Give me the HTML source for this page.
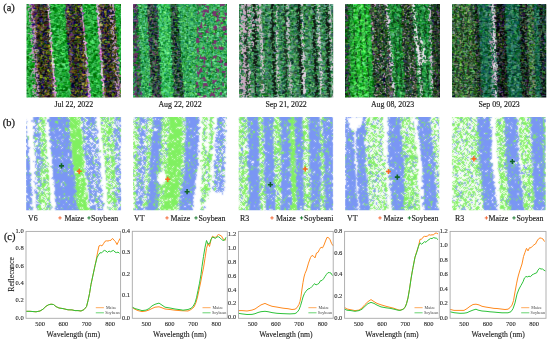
<!DOCTYPE html>
<html><head><meta charset="utf-8"><title>figure</title><style>
html,body{margin:0;padding:0;background:#fff;width:550px;height:342px;overflow:hidden}
svg{display:block}
text{font-family:"Liberation Serif","Times New Roman",serif}
</style></head><body>
<svg width="550" height="342" viewBox="0 0 550 342">
<defs>
<linearGradient id="gD1" x1="0" y1="0" x2="1" y2="0"><stop offset="0" stop-color="#b088ac"/><stop offset="0.12" stop-color="#6e4c62"/><stop offset="0.35" stop-color="#34341f"/><stop offset="0.7" stop-color="#3a3a22"/><stop offset="0.9" stop-color="#5a5436"/><stop offset="1" stop-color="#a89aa0"/></linearGradient>
<linearGradient id="gD1b" x1="0" y1="0" x2="1" y2="0"><stop offset="0" stop-color="#7a6070"/><stop offset="0.15" stop-color="#4a3a40"/><stop offset="0.4" stop-color="#2e3020"/><stop offset="0.75" stop-color="#3a3a22"/><stop offset="0.92" stop-color="#6a5a5a"/><stop offset="1" stop-color="#b090b0"/></linearGradient>
<linearGradient id="gD4" x1="0" y1="0" x2="1" y2="0"><stop offset="0" stop-color="#3a4a3a"/><stop offset="0.3" stop-color="#2c4a30"/><stop offset="0.7" stop-color="#305234"/><stop offset="1" stop-color="#4e4e4e"/></linearGradient>
<linearGradient id="gB4" x1="0" y1="0" x2="1" y2="0"><stop offset="0" stop-color="#1f7a34"/><stop offset="0.25" stop-color="#2db83a"/><stop offset="0.6" stop-color="#34c840"/><stop offset="0.85" stop-color="#28a838"/><stop offset="1" stop-color="#1f7a34"/></linearGradient>
<filter id="dA0" x="0" y="0" width="1" height="1" color-interpolation-filters="sRGB"><feTurbulence type="fractalNoise" baseFrequency="0.25 0.4" numOctaves="2" seed="21" result="t"/><feDisplacementMap in="SourceGraphic" in2="t" scale="5" xChannelSelector="R" yChannelSelector="G"/><feConvolveMatrix order="3" kernelMatrix="0 1 0 1 6 1 0 1 0" edgeMode="duplicate" preserveAlpha="true"/></filter>
<filter id="dA1" x="0" y="0" width="1" height="1" color-interpolation-filters="sRGB"><feTurbulence type="fractalNoise" baseFrequency="0.25 0.4" numOctaves="2" seed="22" result="t"/><feDisplacementMap in="SourceGraphic" in2="t" scale="5" xChannelSelector="R" yChannelSelector="G"/><feConvolveMatrix order="3" kernelMatrix="0 1 0 1 6 1 0 1 0" edgeMode="duplicate" preserveAlpha="true"/></filter>
<filter id="dA2" x="0" y="0" width="1" height="1" color-interpolation-filters="sRGB"><feTurbulence type="fractalNoise" baseFrequency="0.25 0.4" numOctaves="2" seed="23" result="t"/><feDisplacementMap in="SourceGraphic" in2="t" scale="5" xChannelSelector="R" yChannelSelector="G"/><feConvolveMatrix order="3" kernelMatrix="0 1 0 1 6 1 0 1 0" edgeMode="duplicate" preserveAlpha="true"/></filter>
<filter id="dA3" x="0" y="0" width="1" height="1" color-interpolation-filters="sRGB"><feTurbulence type="fractalNoise" baseFrequency="0.25 0.4" numOctaves="2" seed="24" result="t"/><feDisplacementMap in="SourceGraphic" in2="t" scale="5" xChannelSelector="R" yChannelSelector="G"/><feConvolveMatrix order="3" kernelMatrix="0 1 0 1 6 1 0 1 0" edgeMode="duplicate" preserveAlpha="true"/></filter>
<filter id="dA4" x="0" y="0" width="1" height="1" color-interpolation-filters="sRGB"><feTurbulence type="fractalNoise" baseFrequency="0.25 0.4" numOctaves="2" seed="25" result="t"/><feDisplacementMap in="SourceGraphic" in2="t" scale="5" xChannelSelector="R" yChannelSelector="G"/><feConvolveMatrix order="3" kernelMatrix="0 1 0 1 6 1 0 1 0" edgeMode="duplicate" preserveAlpha="true"/></filter>
<filter id="nL1" x="0" y="0" width="1" height="1" color-interpolation-filters="sRGB"><feTurbulence type="fractalNoise" baseFrequency="0.35 0.6" numOctaves="1" seed="3" result="t"/><feColorMatrix in="t" type="matrix" values="0.150 0.900 0.100 0 -0.075 -0.150 0.900 0.100 0 0.075 0.150 0.900 -0.100 0 0.025 0 0 0 0 1" result="c"/><feComposite in="SourceGraphic" in2="c" operator="arithmetic" k1="0" k2="1" k3="1.500" k4="-0.750" result="r"/><feComposite in="r" in2="SourceGraphic" operator="in"/></filter>
<filter id="nL2" x="0" y="0" width="1" height="1" color-interpolation-filters="sRGB"><feTurbulence type="fractalNoise" baseFrequency="0.45 0.8" numOctaves="1" seed="5" result="t"/><feColorMatrix in="t" type="matrix" values="0.100 0.800 0.250 0 -0.075 -0.100 0.800 0.250 0 0.025 0.100 0.800 -0.250 0 0.175 0 0 0 0 1" result="c"/><feComposite in="SourceGraphic" in2="c" operator="arithmetic" k1="0" k2="1" k3="1.500" k4="-0.750" result="r"/><feComposite in="r" in2="SourceGraphic" operator="in"/></filter>
<filter id="nL3" x="0" y="0" width="1" height="1" color-interpolation-filters="sRGB"><feTurbulence type="fractalNoise" baseFrequency="0.35 0.6" numOctaves="1" seed="7" result="t"/><feColorMatrix in="t" type="matrix" values="0.300 0.800 0.200 0 -0.150 -0.300 0.800 0.200 0 0.150 0.300 0.800 -0.200 0 0.050 0 0 0 0 1" result="c"/><feComposite in="SourceGraphic" in2="c" operator="arithmetic" k1="0" k2="1" k3="1.500" k4="-0.750" result="r"/><feComposite in="r" in2="SourceGraphic" operator="in"/></filter>
<filter id="nL4" x="0" y="0" width="1" height="1" color-interpolation-filters="sRGB"><feTurbulence type="fractalNoise" baseFrequency="0.35 0.6" numOctaves="1" seed="11" result="t"/><feColorMatrix in="t" type="matrix" values="0.200 0.800 0.150 0 -0.075 -0.200 0.800 0.150 0 0.125 0.200 0.800 -0.150 0 0.075 0 0 0 0 1" result="c"/><feComposite in="SourceGraphic" in2="c" operator="arithmetic" k1="0" k2="1" k3="1.500" k4="-0.750" result="r"/><feComposite in="r" in2="SourceGraphic" operator="in"/></filter>
<filter id="nL5" x="0" y="0" width="1" height="1" color-interpolation-filters="sRGB"><feTurbulence type="fractalNoise" baseFrequency="0.35 0.6" numOctaves="1" seed="13" result="t"/><feColorMatrix in="t" type="matrix" values="0.200 0.700 0.200 0 -0.050 -0.200 0.700 0.200 0 0.150 0.200 0.700 -0.200 0 0.150 0 0 0 0 1" result="c"/><feComposite in="SourceGraphic" in2="c" operator="arithmetic" k1="0" k2="1" k3="1.500" k4="-0.750" result="r"/><feComposite in="r" in2="SourceGraphic" operator="in"/></filter>
<filter id="nD1" x="0" y="0" width="1" height="1" color-interpolation-filters="sRGB"><feTurbulence type="fractalNoise" baseFrequency="0.4 0.7" numOctaves="1" seed="17" result="t"/><feColorMatrix in="t" type="matrix" values="0.350 0.700 0.700 0 -0.375 -0.350 0.700 0.700 0 -0.025 0.350 0.700 -0.700 0 0.325 0 0 0 0 1" result="c"/><feComposite in="SourceGraphic" in2="c" operator="arithmetic" k1="0" k2="1" k3="1.500" k4="-0.750" result="r"/><feComposite in="r" in2="SourceGraphic" operator="in"/></filter>
<filter id="nD2" x="0" y="0" width="1" height="1" color-interpolation-filters="sRGB"><feTurbulence type="fractalNoise" baseFrequency="0.35 0.6" numOctaves="1" seed="19" result="t"/><feColorMatrix in="t" type="matrix" values="0.800 0.600 0.300 0 -0.350 -0.800 0.600 0.300 0 0.450 0.800 0.600 -0.300 0 -0.050 0 0 0 0 1" result="c"/><feComposite in="SourceGraphic" in2="c" operator="arithmetic" k1="0" k2="1" k3="1.500" k4="-0.750" result="r"/><feComposite in="r" in2="SourceGraphic" operator="in"/></filter>
<filter id="nD3" x="0" y="0" width="1" height="1" color-interpolation-filters="sRGB"><feTurbulence type="fractalNoise" baseFrequency="0.4 0.7" numOctaves="1" seed="23" result="t"/><feColorMatrix in="t" type="matrix" values="0.350 0.800 0.300 0 -0.225 -0.350 0.800 0.300 0 0.125 0.350 0.800 -0.300 0 0.075 0 0 0 0 1" result="c"/><feComposite in="SourceGraphic" in2="c" operator="arithmetic" k1="0" k2="1" k3="1.500" k4="-0.750" result="r"/><feComposite in="r" in2="SourceGraphic" operator="in"/></filter>
<filter id="spP0" x="0" y="0" width="1" height="1" color-interpolation-filters="sRGB"><feTurbulence type="fractalNoise" baseFrequency="0.55" numOctaves="1" seed="40" result="t"/><feColorMatrix in="t" type="matrix" values="0 0 0 0 0 0 0 0 0 0 0 0 0 0 0 25 0 0 0 -13.033" result="m"/><feComposite in="SourceGraphic" in2="m" operator="in"/></filter>
<filter id="spP1" x="0" y="0" width="1" height="1" color-interpolation-filters="sRGB"><feTurbulence type="fractalNoise" baseFrequency="0.55" numOctaves="1" seed="41" result="t"/><feColorMatrix in="t" type="matrix" values="0 0 0 0 0 0 0 0 0 0 0 0 0 0 0 25 0 0 0 -13.033" result="m"/><feComposite in="SourceGraphic" in2="m" operator="in"/></filter>
<filter id="spP2" x="0" y="0" width="1" height="1" color-interpolation-filters="sRGB"><feTurbulence type="fractalNoise" baseFrequency="0.55" numOctaves="1" seed="42" result="t"/><feColorMatrix in="t" type="matrix" values="0 0 0 0 0 0 0 0 0 0 0 0 0 0 0 25 0 0 0 -13.367" result="m"/><feComposite in="SourceGraphic" in2="m" operator="in"/></filter>
<filter id="spP3" x="0" y="0" width="1" height="1" color-interpolation-filters="sRGB"><feTurbulence type="fractalNoise" baseFrequency="0.55" numOctaves="1" seed="43" result="t"/><feColorMatrix in="t" type="matrix" values="0 0 0 0 0 0 0 0 0 0 0 0 0 0 0 25 0 0 0 -13.367" result="m"/><feComposite in="SourceGraphic" in2="m" operator="in"/></filter>
<filter id="spP4" x="0" y="0" width="1" height="1" color-interpolation-filters="sRGB"><feTurbulence type="fractalNoise" baseFrequency="0.55" numOctaves="1" seed="44" result="t"/><feColorMatrix in="t" type="matrix" values="0 0 0 0 0 0 0 0 0 0 0 0 0 0 0 25 0 0 0 -13.367" result="m"/><feComposite in="SourceGraphic" in2="m" operator="in"/></filter>
<filter id="spS0" x="0" y="0" width="1" height="1" color-interpolation-filters="sRGB"><feTurbulence type="fractalNoise" baseFrequency="0.6" numOctaves="1" seed="120" result="t"/><feColorMatrix in="t" type="matrix" values="0 0 0 0 0 0 0 0 0 0 0 0 0 0 0 25 0 0 0 -16.000" result="m"/><feComposite in="SourceGraphic" in2="m" operator="in"/></filter>
<filter id="spQ0" x="0" y="0" width="1" height="1" color-interpolation-filters="sRGB"><feTurbulence type="fractalNoise" baseFrequency="0.3" numOctaves="1" seed="160" result="t"/><feColorMatrix in="t" type="matrix" values="0 0 0 0 0 0 0 0 0 0 0 0 0 0 0 25 0 0 0 -14.250" result="m"/><feComposite in="SourceGraphic" in2="m" operator="in"/></filter>
<filter id="spS1" x="0" y="0" width="1" height="1" color-interpolation-filters="sRGB"><feTurbulence type="fractalNoise" baseFrequency="0.6" numOctaves="1" seed="121" result="t"/><feColorMatrix in="t" type="matrix" values="0 0 0 0 0 0 0 0 0 0 0 0 0 0 0 25 0 0 0 -16.000" result="m"/><feComposite in="SourceGraphic" in2="m" operator="in"/></filter>
<filter id="spQ1" x="0" y="0" width="1" height="1" color-interpolation-filters="sRGB"><feTurbulence type="fractalNoise" baseFrequency="0.3" numOctaves="1" seed="161" result="t"/><feColorMatrix in="t" type="matrix" values="0 0 0 0 0 0 0 0 0 0 0 0 0 0 0 25 0 0 0 -14.250" result="m"/><feComposite in="SourceGraphic" in2="m" operator="in"/></filter>
<filter id="spS2" x="0" y="0" width="1" height="1" color-interpolation-filters="sRGB"><feTurbulence type="fractalNoise" baseFrequency="0.6" numOctaves="1" seed="122" result="t"/><feColorMatrix in="t" type="matrix" values="0 0 0 0 0 0 0 0 0 0 0 0 0 0 0 25 0 0 0 -16.000" result="m"/><feComposite in="SourceGraphic" in2="m" operator="in"/></filter>
<filter id="spQ2" x="0" y="0" width="1" height="1" color-interpolation-filters="sRGB"><feTurbulence type="fractalNoise" baseFrequency="0.3" numOctaves="1" seed="162" result="t"/><feColorMatrix in="t" type="matrix" values="0 0 0 0 0 0 0 0 0 0 0 0 0 0 0 25 0 0 0 -14.250" result="m"/><feComposite in="SourceGraphic" in2="m" operator="in"/></filter>
<filter id="spS3" x="0" y="0" width="1" height="1" color-interpolation-filters="sRGB"><feTurbulence type="fractalNoise" baseFrequency="0.6" numOctaves="1" seed="123" result="t"/><feColorMatrix in="t" type="matrix" values="0 0 0 0 0 0 0 0 0 0 0 0 0 0 0 25 0 0 0 -16.000" result="m"/><feComposite in="SourceGraphic" in2="m" operator="in"/></filter>
<filter id="spQ3" x="0" y="0" width="1" height="1" color-interpolation-filters="sRGB"><feTurbulence type="fractalNoise" baseFrequency="0.3" numOctaves="1" seed="163" result="t"/><feColorMatrix in="t" type="matrix" values="0 0 0 0 0 0 0 0 0 0 0 0 0 0 0 25 0 0 0 -14.250" result="m"/><feComposite in="SourceGraphic" in2="m" operator="in"/></filter>
<filter id="spS4" x="0" y="0" width="1" height="1" color-interpolation-filters="sRGB"><feTurbulence type="fractalNoise" baseFrequency="0.6" numOctaves="1" seed="124" result="t"/><feColorMatrix in="t" type="matrix" values="0 0 0 0 0 0 0 0 0 0 0 0 0 0 0 25 0 0 0 -16.000" result="m"/><feComposite in="SourceGraphic" in2="m" operator="in"/></filter>
<filter id="spQ4" x="0" y="0" width="1" height="1" color-interpolation-filters="sRGB"><feTurbulence type="fractalNoise" baseFrequency="0.3" numOctaves="1" seed="164" result="t"/><feColorMatrix in="t" type="matrix" values="0 0 0 0 0 0 0 0 0 0 0 0 0 0 0 25 0 0 0 -14.250" result="m"/><feComposite in="SourceGraphic" in2="m" operator="in"/></filter>
<filter id="spL0" x="0" y="0" width="1" height="1" color-interpolation-filters="sRGB"><feTurbulence type="fractalNoise" baseFrequency="0.55" numOctaves="1" seed="100" result="t"/><feColorMatrix in="t" type="matrix" values="0 0 0 0 0 0 0 0 0 0 0 0 0 0 0 25 0 0 0 -11.667" result="m"/><feComposite in="SourceGraphic" in2="m" operator="in"/></filter>
<filter id="spK0" x="0" y="0" width="1" height="1" color-interpolation-filters="sRGB"><feTurbulence type="fractalNoise" baseFrequency="0.55" numOctaves="1" seed="110" result="t"/><feColorMatrix in="t" type="matrix" values="0 0 0 0 0 0 0 0 0 0 0 0 0 0 0 25 0 0 0 -10.643" result="m"/><feComposite in="SourceGraphic" in2="m" operator="in"/></filter>
<filter id="spL1" x="0" y="0" width="1" height="1" color-interpolation-filters="sRGB"><feTurbulence type="fractalNoise" baseFrequency="0.55" numOctaves="1" seed="101" result="t"/><feColorMatrix in="t" type="matrix" values="0 0 0 0 0 0 0 0 0 0 0 0 0 0 0 25 0 0 0 -11.667" result="m"/><feComposite in="SourceGraphic" in2="m" operator="in"/></filter>
<filter id="spK1" x="0" y="0" width="1" height="1" color-interpolation-filters="sRGB"><feTurbulence type="fractalNoise" baseFrequency="0.55" numOctaves="1" seed="111" result="t"/><feColorMatrix in="t" type="matrix" values="0 0 0 0 0 0 0 0 0 0 0 0 0 0 0 25 0 0 0 -10.643" result="m"/><feComposite in="SourceGraphic" in2="m" operator="in"/></filter>
<filter id="spL2" x="0" y="0" width="1" height="1" color-interpolation-filters="sRGB"><feTurbulence type="fractalNoise" baseFrequency="0.55" numOctaves="1" seed="102" result="t"/><feColorMatrix in="t" type="matrix" values="0 0 0 0 0 0 0 0 0 0 0 0 0 0 0 25 0 0 0 -11.667" result="m"/><feComposite in="SourceGraphic" in2="m" operator="in"/></filter>
<filter id="spK2" x="0" y="0" width="1" height="1" color-interpolation-filters="sRGB"><feTurbulence type="fractalNoise" baseFrequency="0.55" numOctaves="1" seed="112" result="t"/><feColorMatrix in="t" type="matrix" values="0 0 0 0 0 0 0 0 0 0 0 0 0 0 0 25 0 0 0 -10.643" result="m"/><feComposite in="SourceGraphic" in2="m" operator="in"/></filter>
<filter id="spL3" x="0" y="0" width="1" height="1" color-interpolation-filters="sRGB"><feTurbulence type="fractalNoise" baseFrequency="0.55" numOctaves="1" seed="103" result="t"/><feColorMatrix in="t" type="matrix" values="0 0 0 0 0 0 0 0 0 0 0 0 0 0 0 25 0 0 0 -11.667" result="m"/><feComposite in="SourceGraphic" in2="m" operator="in"/></filter>
<filter id="spK3" x="0" y="0" width="1" height="1" color-interpolation-filters="sRGB"><feTurbulence type="fractalNoise" baseFrequency="0.55" numOctaves="1" seed="113" result="t"/><feColorMatrix in="t" type="matrix" values="0 0 0 0 0 0 0 0 0 0 0 0 0 0 0 25 0 0 0 -10.643" result="m"/><feComposite in="SourceGraphic" in2="m" operator="in"/></filter>
<filter id="spL4" x="0" y="0" width="1" height="1" color-interpolation-filters="sRGB"><feTurbulence type="fractalNoise" baseFrequency="0.55" numOctaves="1" seed="104" result="t"/><feColorMatrix in="t" type="matrix" values="0 0 0 0 0 0 0 0 0 0 0 0 0 0 0 25 0 0 0 -11.667" result="m"/><feComposite in="SourceGraphic" in2="m" operator="in"/></filter>
<filter id="spK4" x="0" y="0" width="1" height="1" color-interpolation-filters="sRGB"><feTurbulence type="fractalNoise" baseFrequency="0.55" numOctaves="1" seed="114" result="t"/><feColorMatrix in="t" type="matrix" values="0 0 0 0 0 0 0 0 0 0 0 0 0 0 0 25 0 0 0 -10.643" result="m"/><feComposite in="SourceGraphic" in2="m" operator="in"/></filter>
<filter id="spb0" x="0" y="0" width="1" height="1" color-interpolation-filters="sRGB"><feTurbulence type="fractalNoise" baseFrequency="0.55" numOctaves="1" seed="60" result="t"/><feColorMatrix in="t" type="matrix" values="0 0 0 0 0 0 0 0 0 0 0 0 0 0 0 25 0 0 0 -10.500" result="m"/><feComposite in="SourceGraphic" in2="m" operator="in"/></filter>
<filter id="spg0" x="0" y="0" width="1" height="1" color-interpolation-filters="sRGB"><feTurbulence type="fractalNoise" baseFrequency="0.55" numOctaves="1" seed="70" result="t"/><feColorMatrix in="t" type="matrix" values="0 0 0 0 0 0 0 0 0 0 0 0 0 0 0 25 0 0 0 -11.333" result="m"/><feComposite in="SourceGraphic" in2="m" operator="in"/></filter>
<filter id="spx0" x="0" y="0" width="1" height="1" color-interpolation-filters="sRGB"><feTurbulence type="fractalNoise" baseFrequency="0.55" numOctaves="1" seed="80" result="t"/><feColorMatrix in="t" type="matrix" values="0 0 0 0 0 0 0 0 0 0 0 0 0 0 0 25 0 0 0 -15.500" result="m"/><feComposite in="SourceGraphic" in2="m" operator="in"/></filter>
<filter id="spwB0" x="0" y="0" width="1" height="1" color-interpolation-filters="sRGB"><feTurbulence type="fractalNoise" baseFrequency="0.55" numOctaves="1" seed="90" result="t"/><feColorMatrix in="t" type="matrix" values="0 0 0 0 0 0 0 0 0 0 0 0 0 0 0 25 0 0 0 -16.875" result="m"/><feComposite in="SourceGraphic" in2="m" operator="in"/></filter>
<filter id="spwG0" x="0" y="0" width="1" height="1" color-interpolation-filters="sRGB"><feTurbulence type="fractalNoise" baseFrequency="0.55" numOctaves="1" seed="130" result="t"/><feColorMatrix in="t" type="matrix" values="0 0 0 0 0 0 0 0 0 0 0 0 0 0 0 25 0 0 0 -15.700" result="m"/><feComposite in="SourceGraphic" in2="m" operator="in"/></filter>
<filter id="spgB0" x="0" y="0" width="1" height="1" color-interpolation-filters="sRGB"><feTurbulence type="fractalNoise" baseFrequency="0.55" numOctaves="1" seed="140" result="t"/><feColorMatrix in="t" type="matrix" values="0 0 0 0 0 0 0 0 0 0 0 0 0 0 0 25 0 0 0 -16.000" result="m"/><feComposite in="SourceGraphic" in2="m" operator="in"/></filter>
<filter id="sph0" x="0" y="0" width="1" height="1" color-interpolation-filters="sRGB"><feTurbulence type="fractalNoise" baseFrequency="0.55" numOctaves="1" seed="150" result="t"/><feColorMatrix in="t" type="matrix" values="0 0 0 0 0 0 0 0 0 0 0 0 0 0 0 25 0 0 0 -12.357" result="m"/><feComposite in="SourceGraphic" in2="m" operator="in"/></filter>
<filter id="spb1" x="0" y="0" width="1" height="1" color-interpolation-filters="sRGB"><feTurbulence type="fractalNoise" baseFrequency="0.55" numOctaves="1" seed="61" result="t"/><feColorMatrix in="t" type="matrix" values="0 0 0 0 0 0 0 0 0 0 0 0 0 0 0 25 0 0 0 -10.500" result="m"/><feComposite in="SourceGraphic" in2="m" operator="in"/></filter>
<filter id="spg1" x="0" y="0" width="1" height="1" color-interpolation-filters="sRGB"><feTurbulence type="fractalNoise" baseFrequency="0.55" numOctaves="1" seed="71" result="t"/><feColorMatrix in="t" type="matrix" values="0 0 0 0 0 0 0 0 0 0 0 0 0 0 0 25 0 0 0 -11.333" result="m"/><feComposite in="SourceGraphic" in2="m" operator="in"/></filter>
<filter id="spx1" x="0" y="0" width="1" height="1" color-interpolation-filters="sRGB"><feTurbulence type="fractalNoise" baseFrequency="0.55" numOctaves="1" seed="81" result="t"/><feColorMatrix in="t" type="matrix" values="0 0 0 0 0 0 0 0 0 0 0 0 0 0 0 25 0 0 0 -15.500" result="m"/><feComposite in="SourceGraphic" in2="m" operator="in"/></filter>
<filter id="spwB1" x="0" y="0" width="1" height="1" color-interpolation-filters="sRGB"><feTurbulence type="fractalNoise" baseFrequency="0.55" numOctaves="1" seed="91" result="t"/><feColorMatrix in="t" type="matrix" values="0 0 0 0 0 0 0 0 0 0 0 0 0 0 0 25 0 0 0 -16.875" result="m"/><feComposite in="SourceGraphic" in2="m" operator="in"/></filter>
<filter id="spwG1" x="0" y="0" width="1" height="1" color-interpolation-filters="sRGB"><feTurbulence type="fractalNoise" baseFrequency="0.55" numOctaves="1" seed="131" result="t"/><feColorMatrix in="t" type="matrix" values="0 0 0 0 0 0 0 0 0 0 0 0 0 0 0 25 0 0 0 -15.700" result="m"/><feComposite in="SourceGraphic" in2="m" operator="in"/></filter>
<filter id="spgB1" x="0" y="0" width="1" height="1" color-interpolation-filters="sRGB"><feTurbulence type="fractalNoise" baseFrequency="0.55" numOctaves="1" seed="141" result="t"/><feColorMatrix in="t" type="matrix" values="0 0 0 0 0 0 0 0 0 0 0 0 0 0 0 25 0 0 0 -16.000" result="m"/><feComposite in="SourceGraphic" in2="m" operator="in"/></filter>
<filter id="sph1" x="0" y="0" width="1" height="1" color-interpolation-filters="sRGB"><feTurbulence type="fractalNoise" baseFrequency="0.55" numOctaves="1" seed="151" result="t"/><feColorMatrix in="t" type="matrix" values="0 0 0 0 0 0 0 0 0 0 0 0 0 0 0 25 0 0 0 -12.357" result="m"/><feComposite in="SourceGraphic" in2="m" operator="in"/></filter>
<filter id="spb2" x="0" y="0" width="1" height="1" color-interpolation-filters="sRGB"><feTurbulence type="fractalNoise" baseFrequency="0.55" numOctaves="1" seed="62" result="t"/><feColorMatrix in="t" type="matrix" values="0 0 0 0 0 0 0 0 0 0 0 0 0 0 0 25 0 0 0 -10.500" result="m"/><feComposite in="SourceGraphic" in2="m" operator="in"/></filter>
<filter id="spg2" x="0" y="0" width="1" height="1" color-interpolation-filters="sRGB"><feTurbulence type="fractalNoise" baseFrequency="0.55" numOctaves="1" seed="72" result="t"/><feColorMatrix in="t" type="matrix" values="0 0 0 0 0 0 0 0 0 0 0 0 0 0 0 25 0 0 0 -11.333" result="m"/><feComposite in="SourceGraphic" in2="m" operator="in"/></filter>
<filter id="spx2" x="0" y="0" width="1" height="1" color-interpolation-filters="sRGB"><feTurbulence type="fractalNoise" baseFrequency="0.55" numOctaves="1" seed="82" result="t"/><feColorMatrix in="t" type="matrix" values="0 0 0 0 0 0 0 0 0 0 0 0 0 0 0 25 0 0 0 -15.500" result="m"/><feComposite in="SourceGraphic" in2="m" operator="in"/></filter>
<filter id="spwB2" x="0" y="0" width="1" height="1" color-interpolation-filters="sRGB"><feTurbulence type="fractalNoise" baseFrequency="0.55" numOctaves="1" seed="92" result="t"/><feColorMatrix in="t" type="matrix" values="0 0 0 0 0 0 0 0 0 0 0 0 0 0 0 25 0 0 0 -16.875" result="m"/><feComposite in="SourceGraphic" in2="m" operator="in"/></filter>
<filter id="spwG2" x="0" y="0" width="1" height="1" color-interpolation-filters="sRGB"><feTurbulence type="fractalNoise" baseFrequency="0.55" numOctaves="1" seed="132" result="t"/><feColorMatrix in="t" type="matrix" values="0 0 0 0 0 0 0 0 0 0 0 0 0 0 0 25 0 0 0 -15.700" result="m"/><feComposite in="SourceGraphic" in2="m" operator="in"/></filter>
<filter id="spgB2" x="0" y="0" width="1" height="1" color-interpolation-filters="sRGB"><feTurbulence type="fractalNoise" baseFrequency="0.55" numOctaves="1" seed="142" result="t"/><feColorMatrix in="t" type="matrix" values="0 0 0 0 0 0 0 0 0 0 0 0 0 0 0 25 0 0 0 -16.000" result="m"/><feComposite in="SourceGraphic" in2="m" operator="in"/></filter>
<filter id="sph2" x="0" y="0" width="1" height="1" color-interpolation-filters="sRGB"><feTurbulence type="fractalNoise" baseFrequency="0.55" numOctaves="1" seed="152" result="t"/><feColorMatrix in="t" type="matrix" values="0 0 0 0 0 0 0 0 0 0 0 0 0 0 0 25 0 0 0 -12.357" result="m"/><feComposite in="SourceGraphic" in2="m" operator="in"/></filter>
<filter id="spb3" x="0" y="0" width="1" height="1" color-interpolation-filters="sRGB"><feTurbulence type="fractalNoise" baseFrequency="0.55" numOctaves="1" seed="63" result="t"/><feColorMatrix in="t" type="matrix" values="0 0 0 0 0 0 0 0 0 0 0 0 0 0 0 25 0 0 0 -10.500" result="m"/><feComposite in="SourceGraphic" in2="m" operator="in"/></filter>
<filter id="spg3" x="0" y="0" width="1" height="1" color-interpolation-filters="sRGB"><feTurbulence type="fractalNoise" baseFrequency="0.55" numOctaves="1" seed="73" result="t"/><feColorMatrix in="t" type="matrix" values="0 0 0 0 0 0 0 0 0 0 0 0 0 0 0 25 0 0 0 -11.333" result="m"/><feComposite in="SourceGraphic" in2="m" operator="in"/></filter>
<filter id="spx3" x="0" y="0" width="1" height="1" color-interpolation-filters="sRGB"><feTurbulence type="fractalNoise" baseFrequency="0.55" numOctaves="1" seed="83" result="t"/><feColorMatrix in="t" type="matrix" values="0 0 0 0 0 0 0 0 0 0 0 0 0 0 0 25 0 0 0 -15.500" result="m"/><feComposite in="SourceGraphic" in2="m" operator="in"/></filter>
<filter id="spwB3" x="0" y="0" width="1" height="1" color-interpolation-filters="sRGB"><feTurbulence type="fractalNoise" baseFrequency="0.55" numOctaves="1" seed="93" result="t"/><feColorMatrix in="t" type="matrix" values="0 0 0 0 0 0 0 0 0 0 0 0 0 0 0 25 0 0 0 -16.875" result="m"/><feComposite in="SourceGraphic" in2="m" operator="in"/></filter>
<filter id="spwG3" x="0" y="0" width="1" height="1" color-interpolation-filters="sRGB"><feTurbulence type="fractalNoise" baseFrequency="0.55" numOctaves="1" seed="133" result="t"/><feColorMatrix in="t" type="matrix" values="0 0 0 0 0 0 0 0 0 0 0 0 0 0 0 25 0 0 0 -15.700" result="m"/><feComposite in="SourceGraphic" in2="m" operator="in"/></filter>
<filter id="spgB3" x="0" y="0" width="1" height="1" color-interpolation-filters="sRGB"><feTurbulence type="fractalNoise" baseFrequency="0.55" numOctaves="1" seed="143" result="t"/><feColorMatrix in="t" type="matrix" values="0 0 0 0 0 0 0 0 0 0 0 0 0 0 0 25 0 0 0 -16.000" result="m"/><feComposite in="SourceGraphic" in2="m" operator="in"/></filter>
<filter id="sph3" x="0" y="0" width="1" height="1" color-interpolation-filters="sRGB"><feTurbulence type="fractalNoise" baseFrequency="0.55" numOctaves="1" seed="153" result="t"/><feColorMatrix in="t" type="matrix" values="0 0 0 0 0 0 0 0 0 0 0 0 0 0 0 25 0 0 0 -12.357" result="m"/><feComposite in="SourceGraphic" in2="m" operator="in"/></filter>
<filter id="spb4" x="0" y="0" width="1" height="1" color-interpolation-filters="sRGB"><feTurbulence type="fractalNoise" baseFrequency="0.55" numOctaves="1" seed="64" result="t"/><feColorMatrix in="t" type="matrix" values="0 0 0 0 0 0 0 0 0 0 0 0 0 0 0 25 0 0 0 -10.500" result="m"/><feComposite in="SourceGraphic" in2="m" operator="in"/></filter>
<filter id="spg4" x="0" y="0" width="1" height="1" color-interpolation-filters="sRGB"><feTurbulence type="fractalNoise" baseFrequency="0.55" numOctaves="1" seed="74" result="t"/><feColorMatrix in="t" type="matrix" values="0 0 0 0 0 0 0 0 0 0 0 0 0 0 0 25 0 0 0 -11.333" result="m"/><feComposite in="SourceGraphic" in2="m" operator="in"/></filter>
<filter id="spx4" x="0" y="0" width="1" height="1" color-interpolation-filters="sRGB"><feTurbulence type="fractalNoise" baseFrequency="0.55" numOctaves="1" seed="84" result="t"/><feColorMatrix in="t" type="matrix" values="0 0 0 0 0 0 0 0 0 0 0 0 0 0 0 25 0 0 0 -15.500" result="m"/><feComposite in="SourceGraphic" in2="m" operator="in"/></filter>
<filter id="spwB4" x="0" y="0" width="1" height="1" color-interpolation-filters="sRGB"><feTurbulence type="fractalNoise" baseFrequency="0.55" numOctaves="1" seed="94" result="t"/><feColorMatrix in="t" type="matrix" values="0 0 0 0 0 0 0 0 0 0 0 0 0 0 0 25 0 0 0 -16.875" result="m"/><feComposite in="SourceGraphic" in2="m" operator="in"/></filter>
<filter id="spwG4" x="0" y="0" width="1" height="1" color-interpolation-filters="sRGB"><feTurbulence type="fractalNoise" baseFrequency="0.55" numOctaves="1" seed="134" result="t"/><feColorMatrix in="t" type="matrix" values="0 0 0 0 0 0 0 0 0 0 0 0 0 0 0 25 0 0 0 -15.700" result="m"/><feComposite in="SourceGraphic" in2="m" operator="in"/></filter>
<filter id="spgB4" x="0" y="0" width="1" height="1" color-interpolation-filters="sRGB"><feTurbulence type="fractalNoise" baseFrequency="0.55" numOctaves="1" seed="144" result="t"/><feColorMatrix in="t" type="matrix" values="0 0 0 0 0 0 0 0 0 0 0 0 0 0 0 25 0 0 0 -16.000" result="m"/><feComposite in="SourceGraphic" in2="m" operator="in"/></filter>
<filter id="sph4" x="0" y="0" width="1" height="1" color-interpolation-filters="sRGB"><feTurbulence type="fractalNoise" baseFrequency="0.55" numOctaves="1" seed="154" result="t"/><feColorMatrix in="t" type="matrix" values="0 0 0 0 0 0 0 0 0 0 0 0 0 0 0 25 0 0 0 -12.357" result="m"/><feComposite in="SourceGraphic" in2="m" operator="in"/></filter>
<filter id="dB" x="0" y="0" width="1" height="1" color-interpolation-filters="sRGB"><feTurbulence type="fractalNoise" baseFrequency="0.3" numOctaves="2" seed="2" result="t"/><feDisplacementMap in="SourceGraphic" in2="t" scale="6" xChannelSelector="R" yChannelSelector="G"/><feConvolveMatrix order="3" kernelMatrix="1 1 1 1 8 1 1 1 1" edgeMode="duplicate" preserveAlpha="true"/></filter>
<clipPath id="ca0"><rect x="26.5" y="4.0" width="94.5" height="93.5"/></clipPath>
<clipPath id="ca1"><rect x="133.0" y="4.0" width="94.0" height="93.5"/></clipPath>
<clipPath id="ca2"><rect x="239.0" y="4.0" width="94.2" height="93.5"/></clipPath>
<clipPath id="ca3"><rect x="345.0" y="4.0" width="95.0" height="93.5"/></clipPath>
<clipPath id="ca4"><rect x="452.0" y="4.0" width="94.3" height="93.5"/></clipPath>
<clipPath id="cb0"><rect x="26.0" y="117.0" width="95.2" height="93.3"/></clipPath>
<clipPath id="cb1"><rect x="133.0" y="117.0" width="94.2" height="93.3"/></clipPath>
<clipPath id="cb2"><rect x="238.6" y="117.0" width="94.6" height="93.3"/></clipPath>
<clipPath id="cb3"><rect x="345.0" y="117.0" width="94.5" height="93.3"/></clipPath>
<clipPath id="cb4"><rect x="451.8" y="117.0" width="94.0" height="93.3"/></clipPath>
</defs>
<rect width="550" height="342" fill="#fff"/>
<text x="3.2" y="11.2" font-size="10.4" fill="#1a1a1a" stroke="#1a1a1a" stroke-width="0.25">(a)</text>
<text x="2.8" y="126.1" font-size="10.4" fill="#1a1a1a" stroke="#1a1a1a" stroke-width="0.25">(b)</text>
<text x="3.9" y="239.8" font-size="10.4" fill="#1a1a1a" stroke="#1a1a1a" stroke-width="0.25">(c)</text>
<g clip-path="url(#ca0)"><g filter="url(#dA0)">
<rect x="22.5" y="0.0" width="102.5" height="101.5" fill="#1fa636" filter="url(#nL1)"/>
<g filter="url(#nD1)"><polygon points="30.0,0.0 47.5,0.0 55.5,101.5 37.0,101.5" fill="url(#gD1)" /></g>
<g filter="url(#nD2)"><polygon points="46.8,0.0 48.8,0.0 57.0,101.5 54.8,101.5" fill="#d8b8d8" /></g>
<g filter="url(#nD1)"><polygon points="64.5,0.0 81.0,0.0 90.0,101.5 71.5,101.5" fill="url(#gD1b)" /></g>
<g filter="url(#nD2)"><polygon points="80.3,0.0 82.0,0.0 91.5,101.5 89.0,101.5" fill="#c8a4c8" /></g>
<g filter="url(#nD2)"><polygon points="95.8,0.0 98.3,0.0 105.6,101.5 103.0,101.5" fill="#d6b4d6" /></g>
<g filter="url(#nD1)"><polygon points="98.0,0.0 114.0,0.0 122.0,101.5 105.4,101.5" fill="url(#gD1b)" /></g>
<g filter="url(#spP0)"><polygon points="27.0,0.0 34.0,0.0 40.0,101.5 33.0,101.5" fill="#c09ac0" /></g>
<g filter="url(#spP1)"><polygon points="108.0,0.0 114.0,0.0 122.0,101.5 116.0,101.5" fill="#c09ac0" /></g>
</g></g>
<text x="73.8" y="106.7" font-size="7.9" text-anchor="middle" fill="#222" stroke="#222" stroke-width="0.15">Jul 22, 2022</text>
<g clip-path="url(#ca1)"><g filter="url(#dA1)">
<rect x="129.0" y="0.0" width="102.0" height="101.5" fill="#38aa5a" filter="url(#nL2)"/>
<g filter="url(#nD2)"><polygon points="132.0,0.0 137.5,0.0 141.5,101.5 135.5,101.5" fill="#3a5a4e" /></g>
<g filter="url(#nD3)"><polygon points="146.5,0.0 157.0,0.0 161.4,101.5 152.5,101.5" fill="#2a4c3e" /></g>
<g filter="url(#nL2)"><polygon points="157.0,0.0 170.5,0.0 173.6,101.5 161.4,101.5" fill="#3cbc60" /></g>
<g filter="url(#nD3)"><polygon points="170.5,0.0 177.0,0.0 184.5,101.5 173.6,101.5" fill="#224c36" /></g>
<g filter="url(#spQ0)"><polygon points="197.0,0.0 209.0,0.0 207.0,101.5 195.0,101.5" fill="#7a3070" /></g>
<g filter="url(#spQ1)"><polygon points="212.0,0.0 228.0,0.0 228.0,101.5 211.0,101.5" fill="#7a3070" /></g>
<g filter="url(#spQ2)"><polygon points="132.0,0.0 138.0,0.0 138.0,101.5 132.0,101.5" fill="#6a3060" /></g>
<g filter="url(#spS3)"><polygon points="145.0,0.0 158.0,0.0 162.0,101.5 151.0,101.5" fill="#6a3060" /></g>
</g></g>
<text x="180.0" y="106.7" font-size="7.9" text-anchor="middle" fill="#222" stroke="#222" stroke-width="0.15">Aug 22, 2022</text>
<g clip-path="url(#ca2)"><g filter="url(#dA2)">
<rect x="235.0" y="0.0" width="102.2" height="101.5" fill="#3a8254" filter="url(#nL3)"/>
<g filter="url(#spP1)"><polygon points="238.0,0.0 262.0,0.0 258.0,40.0 246.0,60.0 238.0,50.0" fill="#d4b4cc" /></g>
<g filter="url(#spP0)"><polygon points="238.0,60.0 250.0,60.0 252.0,100.0 238.0,100.0" fill="#d4b4cc" /></g>
<g filter="url(#spL0)"><line x1="243" y1="0.0" x2="245.5" y2="101.5" stroke="#c8a8c0" stroke-width="5"/></g>
<g filter="url(#spK0)"><line x1="253.5" y1="0.0" x2="257" y2="101.5" stroke="#0e1812" stroke-width="3.8"/></g>
<g filter="url(#spL1)"><line x1="259.5" y1="0.0" x2="264" y2="101.5" stroke="#d8c4d4" stroke-width="3"/></g>
<g filter="url(#spK1)"><line x1="271.2" y1="0.0" x2="275.5" y2="101.5" stroke="#0e1812" stroke-width="3.4"/></g>
<g filter="url(#spL2)"><line x1="276" y1="0.0" x2="278.5" y2="101.5" stroke="#d8c4d4" stroke-width="2.5"/></g>
<g filter="url(#spL3)"><line x1="287" y1="0.0" x2="291.3" y2="101.5" stroke="#d0c0d0" stroke-width="2.5"/></g>
<g filter="url(#spK2)"><line x1="297.7" y1="0.0" x2="302.7" y2="101.5" stroke="#0e1812" stroke-width="3.8"/></g>
<g filter="url(#spL4)"><line x1="301.8" y1="0.0" x2="304.5" y2="101.5" stroke="#e0d0e0" stroke-width="2.5"/></g>
<g filter="url(#spK3)"><line x1="313" y1="0.0" x2="317.3" y2="101.5" stroke="#0e1812" stroke-width="3.8"/></g>
<g filter="url(#spL0)"><line x1="317.5" y1="0.0" x2="322" y2="101.5" stroke="#e0d0e0" stroke-width="2.6"/></g>
<g filter="url(#spK4)"><line x1="326.3" y1="0.0" x2="330" y2="101.5" stroke="#0e1812" stroke-width="3.8"/></g>
<g filter="url(#spL1)"><line x1="329.8" y1="0.0" x2="333" y2="101.5" stroke="#d8c8d8" stroke-width="2"/></g>
<g filter="url(#spK0)"><line x1="245" y1="0.0" x2="248" y2="101.5" stroke="#1a2a20" stroke-width="3"/></g>
<g filter="url(#spK1)"><line x1="284" y1="0.0" x2="287" y2="101.5" stroke="#1a2a20" stroke-width="3"/></g>
</g></g>
<text x="286.1" y="106.7" font-size="7.9" text-anchor="middle" fill="#222" stroke="#222" stroke-width="0.15">Sep 21, 2022</text>
<g clip-path="url(#ca3)"><g filter="url(#dA3)">
<rect x="341.0" y="0.0" width="103.0" height="101.5" fill="#1f7c38" filter="url(#nL4)"/>
<g filter="url(#nD2)"><polygon points="344.0,0.0 349.0,0.0 351.0,101.5 344.0,101.5" fill="#23502c" /></g>
<g filter="url(#nL4)"><polygon points="348.0,0.0 370.0,0.0 375.0,101.5 350.0,101.5" fill="url(#gB4)" /></g>
<g filter="url(#nL4)"><polygon points="388.0,0.0 400.5,0.0 405.5,101.5 396.0,101.5" fill="#22923c" /></g>
<g filter="url(#nL4)"><polygon points="414.5,0.0 428.0,0.0 434.0,101.5 424.5,101.5" fill="#239040" /></g>
<g filter="url(#nD3)"><polygon points="370.0,0.0 386.0,0.0 393.5,101.5 375.0,101.5" fill="url(#gD4)" /></g>
<g filter="url(#spL2)"><line x1="386.5" y1="0.0" x2="394.5" y2="101.5" stroke="#e2d2e6" stroke-width="2.4"/></g>
<g filter="url(#nD3)"><polygon points="401.0,0.0 411.5,0.0 418.0,101.5 405.0,101.5" fill="url(#gD4)" /></g>
<g filter="url(#spL3)"><line x1="412.8" y1="0.0" x2="422.5" y2="101.5" stroke="#f0e4f0" stroke-width="3"/></g>
<g filter="url(#spL4)"><polygon points="415.0,36.0 422.0,38.0 427.0,62.0 420.0,66.0 417.0,50.0" fill="#f0e4f0" /></g>
<g filter="url(#spL0)"><line x1="429.5" y1="0.0" x2="432.5" y2="101.5" stroke="#d8b8d8" stroke-width="2.4"/></g>
<g filter="url(#nD3)"><polygon points="431.0,0.0 441.0,0.0 441.0,101.5 434.0,101.5" fill="#2a3e2e" /></g>
<g filter="url(#spK0)"><line x1="352.5" y1="0.0" x2="357.5" y2="101.5" stroke="#10301a" stroke-width="1.3"/></g>
<g filter="url(#spK1)"><line x1="358.5" y1="0.0" x2="363.5" y2="101.5" stroke="#10301a" stroke-width="1.3"/></g>
<g filter="url(#spK2)"><line x1="364.5" y1="0.0" x2="369.5" y2="101.5" stroke="#10301a" stroke-width="1.3"/></g>
<g filter="url(#spK3)"><line x1="377.0" y1="0.0" x2="382.0" y2="101.5" stroke="#10301a" stroke-width="1.3"/></g>
<g filter="url(#spK4)"><line x1="382.0" y1="0.0" x2="387.0" y2="101.5" stroke="#10301a" stroke-width="1.3"/></g>
<g filter="url(#spK0)"><line x1="393.0" y1="0.0" x2="398.0" y2="101.5" stroke="#10301a" stroke-width="1.3"/></g>
<g filter="url(#spK1)"><line x1="397.5" y1="0.0" x2="402.5" y2="101.5" stroke="#10301a" stroke-width="1.3"/></g>
<g filter="url(#spK2)"><line x1="404.0" y1="0.0" x2="409.0" y2="101.5" stroke="#10301a" stroke-width="1.3"/></g>
<g filter="url(#spK3)"><line x1="408.5" y1="0.0" x2="413.5" y2="101.5" stroke="#10301a" stroke-width="1.3"/></g>
<g filter="url(#spK4)"><line x1="418.0" y1="0.0" x2="423.0" y2="101.5" stroke="#10301a" stroke-width="1.3"/></g>
<g filter="url(#spK0)"><line x1="424.0" y1="0.0" x2="429.0" y2="101.5" stroke="#10301a" stroke-width="1.3"/></g>
<g filter="url(#spK1)"><line x1="435.0" y1="0.0" x2="440.0" y2="101.5" stroke="#10301a" stroke-width="1.3"/></g>
<g filter="url(#spS0)"><polygon points="370.0,0.0 386.0,0.0 393.5,101.5 375.0,101.5" fill="#c8a0c8" /></g>
<g filter="url(#spS1)"><polygon points="401.0,0.0 411.5,0.0 418.0,101.5 405.0,101.5" fill="#c8a0c8" /></g>
</g></g>
<text x="392.5" y="106.7" font-size="7.9" text-anchor="middle" fill="#222" stroke="#222" stroke-width="0.15">Aug 08, 2023</text>
<g clip-path="url(#ca4)"><g filter="url(#dA4)">
<rect x="448.0" y="0.0" width="102.3" height="101.5" fill="#1d6a4c" filter="url(#nL5)"/>
<g filter="url(#nD3)"><polygon points="451.0,0.0 476.0,0.0 480.0,101.5 451.0,101.5" fill="#40703f" /></g>
<g filter="url(#spK0)"><line x1="455.0" y1="0.0" x2="459.0" y2="101.5" stroke="#16281a" stroke-width="1.4"/></g>
<g filter="url(#spK1)"><line x1="460.5" y1="0.0" x2="464.5" y2="101.5" stroke="#16281a" stroke-width="1.4"/></g>
<g filter="url(#spK2)"><line x1="466.0" y1="0.0" x2="470.0" y2="101.5" stroke="#16281a" stroke-width="1.4"/></g>
<g filter="url(#spK3)"><line x1="471.5" y1="0.0" x2="475.5" y2="101.5" stroke="#16281a" stroke-width="1.4"/></g>
<g filter="url(#nD3)"><polygon points="474.0,0.0 478.0,0.0 482.0,101.5 478.0,101.5" fill="#22382a" /></g>
<g filter="url(#spP0)"><polygon points="489.0,0.0 497.0,0.0 500.0,101.5 492.0,101.5" fill="#b898b4" /></g>
<g filter="url(#nD3)"><polygon points="495.0,0.0 505.0,0.0 508.0,101.5 498.0,101.5" fill="#16221c" /></g>
<g filter="url(#spL1)"><line x1="492.8" y1="0.0" x2="496.6" y2="101.5" stroke="#eadaea" stroke-width="2.6"/></g>
<g filter="url(#nD3)"><polygon points="519.0,0.0 526.5,0.0 529.6,101.5 522.0,101.5" fill="#1a2c22" /></g>
<g filter="url(#nD3)"><polygon points="526.5,0.0 534.0,0.0 536.0,101.5 529.6,101.5" fill="#3c6c42" /></g>
<g filter="url(#nD3)"><polygon points="538.7,0.0 543.0,0.0 546.0,101.5 541.0,101.5" fill="#17302a" /></g>
<g filter="url(#nD3)"><polygon points="544.0,0.0 547.0,0.0 547.0,101.5 546.0,101.5" fill="#183a2c" /></g>
</g></g>
<text x="499.1" y="106.7" font-size="7.9" text-anchor="middle" fill="#222" stroke="#222" stroke-width="0.15">Sep 09, 2023</text>
<g clip-path="url(#cb0)"><g filter="url(#dB)">
<rect x="22.0" y="113.0" width="103.2" height="101.3" fill="#fff"/>
<polygon points="26.0,113.0 26.0,113.0 33.5,214.3 26.0,214.3" fill="#7a96f4" /><polygon points="48.0,113.0 68.5,113.0 73.0,163.5 78.5,214.3 56.0,214.3 52.0,163.5" fill="#7a96f4" />
<polygon points="68.5,113.0 79.5,113.0 84.0,163.5 88.5,214.3 78.5,214.3 73.0,163.5" fill="#80f060" />
<g filter="url(#spwB0)"><polygon points="26.0,113.0 26.0,113.0 33.5,214.3 26.0,214.3" fill="#fff" /><polygon points="48.0,113.0 68.5,113.0 73.0,163.5 78.5,214.3 56.0,214.3 52.0,163.5" fill="#fff" /></g>
<g filter="url(#spwG0)"><polygon points="68.5,113.0 79.5,113.0 84.0,163.5 88.5,214.3 78.5,214.3 73.0,163.5" fill="#fff" /></g>
<g filter="url(#spgB0)"><polygon points="26.0,113.0 26.0,113.0 33.5,214.3 26.0,214.3" fill="#80f060" /><polygon points="48.0,113.0 68.5,113.0 73.0,163.5 78.5,214.3 56.0,214.3 52.0,163.5" fill="#80f060" /></g>
<g filter="url(#spb0)"><polygon points="31.0,113.0 38.0,113.0 42.0,163.5 37.5,214.3 35.5,214.3 34.0,163.5" fill="#7a96f4" /><polygon points="80.0,113.0 96.0,113.0 104.0,214.3 90.0,214.3" fill="#7a96f4" /><polygon points="113.0,113.0 121.2,113.0 121.2,214.3 117.0,214.3" fill="#7a96f4" /></g>
<g filter="url(#spg0)"><polygon points="38.0,113.0 45.0,113.0 48.0,163.5 52.0,214.3 37.0,214.3 42.0,163.5" fill="#80f060" /><polygon points="100.0,113.0 113.0,113.0 117.0,214.3 109.0,214.3" fill="#80f060" /></g>
<g filter="url(#sph0)"></g>
<g filter="url(#spx0)"><polygon points="38.0,113.0 45.0,113.0 48.0,163.5 52.0,214.3 37.0,214.3 42.0,163.5" fill="#7a96f4" /><polygon points="100.0,113.0 113.0,113.0 117.0,214.3 109.0,214.3" fill="#7a96f4" /><polygon points="31.0,113.0 38.0,113.0 42.0,163.5 37.5,214.3 35.5,214.3 34.0,163.5" fill="#80f060" /><polygon points="80.0,113.0 96.0,113.0 104.0,214.3 90.0,214.3" fill="#80f060" /><polygon points="113.0,113.0 121.2,113.0 121.2,214.3 117.0,214.3" fill="#80f060" /></g>
<polygon points="26.0,113.0 33.0,113.0 35.0,163.5 36.0,214.3 33.0,214.3 30.0,163.5" fill="#fff" />
</g></g>
<path d="M76.7 171.3h5M79.2 168.7v5.2" stroke="#f86c1e" stroke-width="1.6"/>
<path d="M59.0 165.9h5M61.5 163.3v5.2" stroke="#126428" stroke-width="1.6"/>
<text x="28" y="220.6" font-size="7.9" fill="#222" stroke="#222" stroke-width="0.15">V6</text>
<path d="M58.3 217.9h3.4M60.0 216.2v3.4" stroke="#f4602a" stroke-width="0.9"/>
<text x="64.4" y="220.6" font-size="7.9" fill="#222" stroke="#222" stroke-width="0.15">Maize</text>
<path d="M87.3 217.9h3.4M89.0 216.2v3.4" stroke="#0e7424" stroke-width="0.9"/>
<text x="91" y="220.6" font-size="7.9" fill="#222" stroke="#222" stroke-width="0.15">Soybean</text>
<g clip-path="url(#cb1)"><g filter="url(#dB)">
<rect x="129.0" y="113.0" width="102.2" height="101.3" fill="#fff"/>
<polygon points="153.3,113.0 162.3,113.0 160.8,163.5 157.8,214.3 146.0,214.3 150.0,163.5" fill="#7a96f4" /><polygon points="186.0,113.0 199.5,113.0 198.0,163.5 192.0,214.3 178.6,214.3 184.6,163.5" fill="#7a96f4" />
<polygon points="170.0,113.0 183.0,113.0 181.0,163.5 176.0,214.3 163.0,214.3 167.0,163.5" fill="#80f060" />
<g filter="url(#spwB1)"><polygon points="153.3,113.0 162.3,113.0 160.8,163.5 157.8,214.3 146.0,214.3 150.0,163.5" fill="#fff" /><polygon points="186.0,113.0 199.5,113.0 198.0,163.5 192.0,214.3 178.6,214.3 184.6,163.5" fill="#fff" /></g>
<g filter="url(#spwG1)"><polygon points="170.0,113.0 183.0,113.0 181.0,163.5 176.0,214.3 163.0,214.3 167.0,163.5" fill="#fff" /></g>
<g filter="url(#spgB1)"><polygon points="153.3,113.0 162.3,113.0 160.8,163.5 157.8,214.3 146.0,214.3 150.0,163.5" fill="#80f060" /><polygon points="186.0,113.0 199.5,113.0 198.0,163.5 192.0,214.3 178.6,214.3 184.6,163.5" fill="#80f060" /></g>
<g filter="url(#spb1)"><polygon points="140.0,113.0 149.0,113.0 146.0,163.5 143.0,214.3 135.0,214.3 137.0,163.5" fill="#7a96f4" /><polygon points="217.4,113.0 226.3,113.0 223.4,214.3 211.4,214.3" fill="#7a96f4" /></g>
<g filter="url(#spg1)"><polygon points="133.0,113.0 140.0,113.0 135.0,214.3 133.0,214.3" fill="#80f060" /><polygon points="149.0,113.0 153.3,113.0 146.0,214.3 143.0,214.3" fill="#80f060" /><polygon points="165.2,113.0 170.0,113.0 167.0,163.5 163.0,214.3 157.8,214.3 163.0,163.5" fill="#80f060" /><polygon points="183.0,113.0 186.0,113.0 184.6,163.5 178.6,214.3 176.0,214.3 181.0,163.5" fill="#80f060" /><polygon points="162.3,113.0 166.0,113.0 158.0,214.3 154.0,214.3" fill="#80f060" /><polygon points="202.5,113.0 214.4,113.0 208.5,214.3 201.0,214.3" fill="#80f060" /></g>
<g filter="url(#sph1)"></g>
<g filter="url(#spx1)"><polygon points="133.0,113.0 140.0,113.0 135.0,214.3 133.0,214.3" fill="#7a96f4" /><polygon points="149.0,113.0 153.3,113.0 146.0,214.3 143.0,214.3" fill="#7a96f4" /><polygon points="165.2,113.0 170.0,113.0 167.0,163.5 163.0,214.3 157.8,214.3 163.0,163.5" fill="#7a96f4" /><polygon points="183.0,113.0 186.0,113.0 184.6,163.5 178.6,214.3 176.0,214.3 181.0,163.5" fill="#7a96f4" /><polygon points="162.3,113.0 166.0,113.0 158.0,214.3 154.0,214.3" fill="#7a96f4" /><polygon points="202.5,113.0 214.4,113.0 208.5,214.3 201.0,214.3" fill="#7a96f4" /><polygon points="140.0,113.0 149.0,113.0 146.0,163.5 143.0,214.3 135.0,214.3 137.0,163.5" fill="#80f060" /><polygon points="217.4,113.0 226.3,113.0 223.4,214.3 211.4,214.3" fill="#80f060" /></g>
<polygon points="158.0,173.0 163.0,171.0 166.0,175.0 165.0,183.0 160.0,185.0 157.0,180.0" fill="#fff" /><polygon points="207.0,117.0 210.0,117.0 209.0,150.0 206.0,150.0" fill="#fff" /><polygon points="205.0,200.0 212.0,190.0 227.2,195.0 227.2,214.0 205.0,214.0" fill="#fff" />
</g></g>
<path d="M165.2 179.3h5M167.7 176.7v5.2" stroke="#f86c1e" stroke-width="1.6"/>
<path d="M184.6 191.7h5M187.1 189.1v5.2" stroke="#126428" stroke-width="1.6"/>
<text x="134" y="220.6" font-size="7.9" fill="#222" stroke="#222" stroke-width="0.15">VT</text>
<path d="M165.3 217.9h3.4M167.0 216.2v3.4" stroke="#f4602a" stroke-width="0.9"/>
<text x="170.6" y="220.6" font-size="7.9" fill="#222" stroke="#222" stroke-width="0.15">Maize</text>
<path d="M194.3 217.9h3.4M196.0 216.2v3.4" stroke="#0e7424" stroke-width="0.9"/>
<text x="198.4" y="220.6" font-size="7.9" fill="#222" stroke="#222" stroke-width="0.15">Soybean</text>
<g clip-path="url(#cb2)"><g filter="url(#dB)">
<rect x="234.6" y="113.0" width="102.6" height="101.3" fill="#fff"/>
<polygon points="247.3,113.0 258.7,113.0 260.0,214.3 248.7,214.3" fill="#7a96f4" /><polygon points="263.0,113.0 272.8,113.0 275.7,214.3 265.7,214.3" fill="#7a96f4" /><polygon points="280.0,113.0 290.0,113.0 291.2,214.3 281.3,214.3" fill="#7a96f4" /><polygon points="294.0,113.0 302.6,113.0 304.0,214.3 297.0,214.3" fill="#7a96f4" /><polygon points="308.0,113.0 319.6,113.0 321.0,214.3 311.0,214.3" fill="#7a96f4" /><polygon points="322.4,113.0 333.2,113.0 333.2,214.3 325.0,214.3" fill="#7a96f4" />
<polygon points="290.0,113.0 294.0,113.0 297.0,214.3 291.2,214.3" fill="#80f060" />
<g filter="url(#spwB2)"><polygon points="247.3,113.0 258.7,113.0 260.0,214.3 248.7,214.3" fill="#fff" /><polygon points="263.0,113.0 272.8,113.0 275.7,214.3 265.7,214.3" fill="#fff" /><polygon points="280.0,113.0 290.0,113.0 291.2,214.3 281.3,214.3" fill="#fff" /><polygon points="294.0,113.0 302.6,113.0 304.0,214.3 297.0,214.3" fill="#fff" /><polygon points="308.0,113.0 319.6,113.0 321.0,214.3 311.0,214.3" fill="#fff" /><polygon points="322.4,113.0 333.2,113.0 333.2,214.3 325.0,214.3" fill="#fff" /></g>
<g filter="url(#spwG2)"><polygon points="290.0,113.0 294.0,113.0 297.0,214.3 291.2,214.3" fill="#fff" /></g>
<g filter="url(#spgB2)"><polygon points="247.3,113.0 258.7,113.0 260.0,214.3 248.7,214.3" fill="#80f060" /><polygon points="263.0,113.0 272.8,113.0 275.7,214.3 265.7,214.3" fill="#80f060" /><polygon points="280.0,113.0 290.0,113.0 291.2,214.3 281.3,214.3" fill="#80f060" /><polygon points="294.0,113.0 302.6,113.0 304.0,214.3 297.0,214.3" fill="#80f060" /><polygon points="308.0,113.0 319.6,113.0 321.0,214.3 311.0,214.3" fill="#80f060" /><polygon points="322.4,113.0 333.2,113.0 333.2,214.3 325.0,214.3" fill="#80f060" /></g>
<g filter="url(#spb2)"></g>
<g filter="url(#spg2)"><polygon points="238.6,113.0 247.3,113.0 248.7,214.3 238.6,214.3" fill="#80f060" /><polygon points="258.7,113.0 263.0,113.0 265.7,214.3 260.0,214.3" fill="#80f060" /><polygon points="272.8,113.0 280.0,113.0 281.3,214.3 275.7,214.3" fill="#80f060" /><polygon points="302.6,113.0 308.0,113.0 311.0,214.3 304.0,214.3" fill="#80f060" /><polygon points="319.6,113.0 322.4,113.0 325.0,214.3 321.0,214.3" fill="#80f060" /></g>
<g filter="url(#sph2)"></g>
<g filter="url(#spx2)"><polygon points="238.6,113.0 247.3,113.0 248.7,214.3 238.6,214.3" fill="#7a96f4" /><polygon points="258.7,113.0 263.0,113.0 265.7,214.3 260.0,214.3" fill="#7a96f4" /><polygon points="272.8,113.0 280.0,113.0 281.3,214.3 275.7,214.3" fill="#7a96f4" /><polygon points="302.6,113.0 308.0,113.0 311.0,214.3 304.0,214.3" fill="#7a96f4" /><polygon points="319.6,113.0 322.4,113.0 325.0,214.3 321.0,214.3" fill="#7a96f4" /></g>

</g></g>
<path d="M302.7 169.0h5M305.2 166.4v5.2" stroke="#f86c1e" stroke-width="1.6"/>
<path d="M267.9 184.7h5M270.4 182.1v5.2" stroke="#126428" stroke-width="1.6"/>
<text x="240" y="220.6" font-size="7.9" fill="#222" stroke="#222" stroke-width="0.15">R3</text>
<path d="M270.3 217.9h3.4M272.0 216.2v3.4" stroke="#f4602a" stroke-width="0.9"/>
<text x="276" y="220.6" font-size="7.9" fill="#222" stroke="#222" stroke-width="0.15">Maize</text>
<path d="M299.9 217.9h3.4M301.6 216.2v3.4" stroke="#0e7424" stroke-width="0.9"/>
<text x="304" y="220.6" font-size="7.9" fill="#222" stroke="#222" stroke-width="0.15">Soybeani</text>
<g clip-path="url(#cb3)"><g filter="url(#dB)">
<rect x="341.0" y="113.0" width="102.5" height="101.3" fill="#fff"/>
<polygon points="345.0,113.0 365.0,113.0 365.3,163.5 370.0,214.3 345.0,214.3 345.0,163.5" fill="#7a96f4" /><polygon points="387.7,113.0 399.6,113.0 404.0,163.5 404.0,214.3 392.0,214.3 387.7,163.5" fill="#7a96f4" /><polygon points="416.0,113.0 429.4,113.0 435.0,163.5 438.0,214.3 423.4,214.3 422.0,163.5" fill="#7a96f4" />

<g filter="url(#spwB3)"><polygon points="345.0,113.0 365.0,113.0 365.3,163.5 370.0,214.3 345.0,214.3 345.0,163.5" fill="#fff" /><polygon points="387.7,113.0 399.6,113.0 404.0,163.5 404.0,214.3 392.0,214.3 387.7,163.5" fill="#fff" /><polygon points="416.0,113.0 429.4,113.0 435.0,163.5 438.0,214.3 423.4,214.3 422.0,163.5" fill="#fff" /></g>
<g filter="url(#spwG3)"></g>
<g filter="url(#spgB3)"><polygon points="345.0,113.0 365.0,113.0 365.3,163.5 370.0,214.3 345.0,214.3 345.0,163.5" fill="#80f060" /><polygon points="387.7,113.0 399.6,113.0 404.0,163.5 404.0,214.3 392.0,214.3 387.7,163.5" fill="#80f060" /><polygon points="416.0,113.0 429.4,113.0 435.0,163.5 438.0,214.3 423.4,214.3 422.0,163.5" fill="#80f060" /></g>
<g filter="url(#spb3)"></g>
<g filter="url(#spg3)"><polygon points="399.6,113.0 413.0,113.0 417.5,163.5 420.5,214.3 404.0,214.3 404.0,163.5" fill="#80f060" /></g>
<g filter="url(#sph3)"><polygon points="365.0,113.0 387.7,113.0 387.7,163.5 392.0,214.3 370.0,214.3 365.3,163.5" fill="#80f060" /><polygon points="429.4,113.0 439.5,113.0 439.5,163.5 439.5,214.3 438.0,214.3 435.0,163.5" fill="#80f060" /></g>
<g filter="url(#spx3)"><polygon points="399.6,113.0 413.0,113.0 417.5,163.5 420.5,214.3 404.0,214.3 404.0,163.5" fill="#7a96f4" /><polygon points="365.0,113.0 387.7,113.0 387.7,163.5 392.0,214.3 370.0,214.3 365.3,163.5" fill="#7a96f4" /><polygon points="429.4,113.0 439.5,113.0 439.5,163.5 439.5,214.3 438.0,214.3 435.0,163.5" fill="#7a96f4" /></g>
<polygon points="353.5,113.0 355.0,113.0 357.0,163.5 359.5,214.3 358.0,214.3 355.0,163.5" fill="#fff" /><polygon points="383.0,113.0 387.7,113.0 387.7,163.5 392.0,214.3 389.0,214.3 385.0,163.5" fill="#fff" /><polygon points="413.0,113.0 416.0,113.0 422.0,163.5 423.4,214.3 420.5,214.3 417.5,163.5" fill="#fff" /><polygon points="348.0,117.0 363.0,117.0 362.0,124.0 355.0,132.0 349.0,127.0" fill="#fff" />
</g></g>
<path d="M386.0 171.5h5M388.5 168.9v5.2" stroke="#f86c1e" stroke-width="1.6"/>
<path d="M394.8 177.1h5M397.3 174.5v5.2" stroke="#126428" stroke-width="1.6"/>
<text x="347" y="220.6" font-size="7.9" fill="#222" stroke="#222" stroke-width="0.15">VT</text>
<path d="M378.3 217.9h3.4M380.0 216.2v3.4" stroke="#f4602a" stroke-width="0.9"/>
<text x="383.6" y="220.6" font-size="7.9" fill="#222" stroke="#222" stroke-width="0.15">Maize</text>
<path d="M407.7 217.9h3.4M409.4 216.2v3.4" stroke="#0e7424" stroke-width="0.9"/>
<text x="411.4" y="220.6" font-size="7.9" fill="#222" stroke="#222" stroke-width="0.15">Soybean</text>
<g clip-path="url(#cb4)"><g filter="url(#dB)">
<rect x="447.8" y="113.0" width="102.0" height="101.3" fill="#fff"/>
<polygon points="477.0,113.0 490.7,113.0 492.0,163.5 498.0,214.3 484.7,214.3 478.8,163.5" fill="#7a96f4" /><polygon points="504.0,113.0 517.5,113.0 519.0,163.5 525.0,214.3 510.0,214.3 505.6,163.5" fill="#7a96f4" /><polygon points="531.0,113.0 545.8,113.0 545.8,214.3 534.0,214.3" fill="#7a96f4" />

<g filter="url(#spwB4)"><polygon points="477.0,113.0 490.7,113.0 492.0,163.5 498.0,214.3 484.7,214.3 478.8,163.5" fill="#fff" /><polygon points="504.0,113.0 517.5,113.0 519.0,163.5 525.0,214.3 510.0,214.3 505.6,163.5" fill="#fff" /><polygon points="531.0,113.0 545.8,113.0 545.8,214.3 534.0,214.3" fill="#fff" /></g>
<g filter="url(#spwG4)"></g>
<g filter="url(#spgB4)"><polygon points="477.0,113.0 490.7,113.0 492.0,163.5 498.0,214.3 484.7,214.3 478.8,163.5" fill="#80f060" /><polygon points="504.0,113.0 517.5,113.0 519.0,163.5 525.0,214.3 510.0,214.3 505.6,163.5" fill="#80f060" /><polygon points="531.0,113.0 545.8,113.0 545.8,214.3 534.0,214.3" fill="#80f060" /></g>
<g filter="url(#spb4)"></g>
<g filter="url(#spg4)"><polygon points="495.0,113.0 504.0,113.0 510.0,214.3 501.0,214.3" fill="#80f060" /><polygon points="517.5,113.0 531.0,113.0 534.0,214.3 525.0,214.3" fill="#80f060" /><polygon points="543.0,113.0 545.8,113.0 545.8,214.3 544.0,214.3" fill="#80f060" /></g>
<g filter="url(#sph4)"><polygon points="451.8,113.0 477.0,113.0 484.7,214.3 451.8,214.3" fill="#80f060" /></g>
<g filter="url(#spx4)"><polygon points="495.0,113.0 504.0,113.0 510.0,214.3 501.0,214.3" fill="#7a96f4" /><polygon points="517.5,113.0 531.0,113.0 534.0,214.3 525.0,214.3" fill="#7a96f4" /><polygon points="543.0,113.0 545.8,113.0 545.8,214.3 544.0,214.3" fill="#7a96f4" /><polygon points="451.8,113.0 477.0,113.0 484.7,214.3 451.8,214.3" fill="#7a96f4" /></g>

</g></g>
<path d="M471.4 158.9h5M473.9 156.3v5.2" stroke="#f86c1e" stroke-width="1.6"/>
<path d="M509.9 161.5h5M512.4 158.9v5.2" stroke="#126428" stroke-width="1.6"/>
<text x="455" y="220.6" font-size="7.9" fill="#222" stroke="#222" stroke-width="0.15">R3</text>
<path d="M484.7 217.9h3.4M486.4 216.2v3.4" stroke="#f4602a" stroke-width="0.9"/>
<text x="488.6" y="220.6" font-size="7.9" fill="#222" stroke="#222" stroke-width="0.15">Maize</text>
<path d="M512.3 217.9h3.4M514.0 216.2v3.4" stroke="#0e7424" stroke-width="0.9"/>
<text x="516.4" y="220.6" font-size="7.9" fill="#222" stroke="#222" stroke-width="0.15">Soybean</text>
<polyline points="26.0,311.3 30.0,311.3 36.0,311.8 40.0,311.0 43.0,309.2 46.0,306.3 48.5,304.8 51.0,304.2 53.5,304.5 56.0,306.6 59.0,308.0 63.0,308.6 68.0,309.8 72.0,309.9 75.0,310.6 78.0,310.6 81.0,311.0 84.0,309.6 86.5,306.6 88.0,300.7 89.5,293.7 91.0,284.4 93.0,275.0 95.0,265.7 96.1,260.4 97.5,252.9 99.0,245.9 100.5,245.3 102.0,245.9 103.5,243.7 105.0,241.3 106.5,240.8 108.0,241.0 109.5,240.5 111.0,240.3 112.5,238.4 114.0,240.1 115.5,241.7 117.0,244.6 118.5,241.4 120.0,238.4" fill="none" stroke="#ff8a1e" stroke-width="1" stroke-linejoin="round"/>
<polyline points="26.0,311.3 30.0,311.3 36.0,311.8 40.0,311.0 43.0,309.2 46.0,306.3 48.5,304.8 51.0,304.2 53.5,304.5 56.0,306.6 59.0,308.0 63.0,308.6 68.0,309.8 72.0,309.9 75.0,310.6 78.0,310.6 81.0,311.0 84.0,309.6 86.5,306.6 88.0,300.7 89.5,293.7 91.0,284.4 93.0,275.0 95.0,265.7 97.0,257.7 98.5,254.8 100.0,252.7 101.5,253.0 103.0,251.3 104.5,250.4 106.0,251.1 107.5,252.4 109.0,251.0 110.5,251.8 112.0,251.0 113.5,250.4 115.0,252.1 116.5,252.6 118.0,252.1 119.5,253.3" fill="none" stroke="#2ec23a" stroke-width="1" stroke-linejoin="round"/>
<rect x="26.0" y="231.4" width="94.6" height="86.9" fill="none" stroke="#a8a8a8" stroke-width="0.9"/>
<text x="23.7" y="319.7" font-size="6.5" text-anchor="end" fill="#2a2a2a" stroke="#2a2a2a" stroke-width="0.12">0.0</text>
<text x="23.7" y="302.4" font-size="6.5" text-anchor="end" fill="#2a2a2a" stroke="#2a2a2a" stroke-width="0.12">0.2</text>
<text x="23.7" y="285.3" font-size="6.5" text-anchor="end" fill="#2a2a2a" stroke="#2a2a2a" stroke-width="0.12">0.4</text>
<text x="23.7" y="268.1" font-size="6.5" text-anchor="end" fill="#2a2a2a" stroke="#2a2a2a" stroke-width="0.12">0.6</text>
<text x="23.7" y="250.2" font-size="6.5" text-anchor="end" fill="#2a2a2a" stroke="#2a2a2a" stroke-width="0.12">0.8</text>
<text x="23.7" y="233.0" font-size="6.5" text-anchor="end" fill="#2a2a2a" stroke="#2a2a2a" stroke-width="0.12">1.0</text>
<text x="40.0" y="326.1" font-size="6.5" text-anchor="middle" fill="#2a2a2a" stroke="#2a2a2a" stroke-width="0.12">500</text>
<text x="63.4" y="326.1" font-size="6.5" text-anchor="middle" fill="#2a2a2a" stroke="#2a2a2a" stroke-width="0.12">600</text>
<text x="86.7" y="326.1" font-size="6.5" text-anchor="middle" fill="#2a2a2a" stroke="#2a2a2a" stroke-width="0.12">700</text>
<text x="110.1" y="326.1" font-size="6.5" text-anchor="middle" fill="#2a2a2a" stroke="#2a2a2a" stroke-width="0.12">800</text>
<text x="73.3" y="337.4" font-size="7.7" text-anchor="middle" fill="#1e1e1e" stroke="#1e1e1e" stroke-width="0.12">Wavelength (nm)</text>
<line x1="95.8" y1="307.7" x2="103.9" y2="307.7" stroke="#ff8a1e" stroke-width="0.9" opacity="0.8"/>
<line x1="95.8" y1="312.8" x2="103.9" y2="312.8" stroke="#2ec23a" stroke-width="0.9" opacity="0.8"/>
<text x="105.9" y="309.2" font-size="4.2" fill="#444">Maize</text>
<text x="105.2" y="314.3" font-size="4.2" fill="#444">Soybean</text>
<polyline points="132.3,307.5 135.0,309.3 138.0,310.6 142.0,311.6 146.0,311.0 149.0,310.0 152.0,308.5 155.0,307.2 159.0,306.8 162.0,307.8 165.0,309.0 170.0,309.5 175.0,310.2 181.0,310.7 188.0,311.0 191.0,309.5 194.0,307.0 196.0,302.5 197.5,297.0 199.0,290.0 200.5,283.0 202.0,275.0 203.5,267.9 205.0,258.3 206.5,248.3 208.0,243.3 209.5,246.5 211.0,239.7 212.5,236.2 214.0,237.2 215.5,237.4 217.0,235.7 218.5,234.5 220.0,235.3 221.5,236.0 223.0,238.9 224.5,239.8 226.0,239.8" fill="none" stroke="#ff8a1e" stroke-width="1" stroke-linejoin="round"/>
<polyline points="132.3,307.1 135.0,308.6 138.0,309.4 142.0,310.6 146.0,310.1 149.0,308.6 152.0,305.9 155.0,304.3 159.0,303.1 162.0,305.1 165.0,307.2 170.0,308.0 175.0,309.0 181.0,309.8 183.0,310.2 188.0,309.5 191.0,308.3 193.0,306.5 195.0,302.9 196.5,297.8 198.0,290.5 199.5,283.2 201.0,274.4 202.0,266.6 203.5,256.4 205.0,247.3 206.5,240.5 208.0,244.0 209.5,243.8 211.0,239.5 212.5,237.0 214.0,237.7 215.5,238.4 217.0,236.8 218.5,236.8 220.0,237.8 221.5,239.4 223.0,240.4 224.5,240.2 226.0,237.3" fill="none" stroke="#2ec23a" stroke-width="1" stroke-linejoin="round"/>
<rect x="132.3" y="231.3" width="95.0" height="87.0" fill="none" stroke="#a8a8a8" stroke-width="0.9"/>
<text x="130.0" y="319.5" font-size="6.5" text-anchor="end" fill="#2a2a2a" stroke="#2a2a2a" stroke-width="0.12">0.0</text>
<text x="130.0" y="297.3" font-size="6.5" text-anchor="end" fill="#2a2a2a" stroke="#2a2a2a" stroke-width="0.12">0.1</text>
<text x="130.0" y="275.5" font-size="6.5" text-anchor="end" fill="#2a2a2a" stroke="#2a2a2a" stroke-width="0.12">0.2</text>
<text x="130.0" y="253.7" font-size="6.5" text-anchor="end" fill="#2a2a2a" stroke="#2a2a2a" stroke-width="0.12">0.3</text>
<text x="130.0" y="232.8" font-size="6.5" text-anchor="end" fill="#2a2a2a" stroke="#2a2a2a" stroke-width="0.12">0.4</text>
<text x="146.3" y="326.1" font-size="6.5" text-anchor="middle" fill="#2a2a2a" stroke="#2a2a2a" stroke-width="0.12">500</text>
<text x="169.7" y="326.1" font-size="6.5" text-anchor="middle" fill="#2a2a2a" stroke="#2a2a2a" stroke-width="0.12">600</text>
<text x="193.0" y="326.1" font-size="6.5" text-anchor="middle" fill="#2a2a2a" stroke="#2a2a2a" stroke-width="0.12">700</text>
<text x="216.4" y="326.1" font-size="6.5" text-anchor="middle" fill="#2a2a2a" stroke="#2a2a2a" stroke-width="0.12">800</text>
<text x="179.8" y="337.4" font-size="7.7" text-anchor="middle" fill="#1e1e1e" stroke="#1e1e1e" stroke-width="0.12">Wavelength (nm)</text>
<line x1="202.5" y1="307.7" x2="210.6" y2="307.7" stroke="#ff8a1e" stroke-width="0.9" opacity="0.8"/>
<line x1="202.5" y1="312.8" x2="210.6" y2="312.8" stroke="#2ec23a" stroke-width="0.9" opacity="0.8"/>
<text x="212.6" y="309.2" font-size="4.2" fill="#444">Maize</text>
<text x="211.9" y="314.3" font-size="4.2" fill="#444">Soybean</text>
<polyline points="238.4,310.6 242.0,310.6 247.0,311.0 252.0,310.1 255.0,309.0 258.0,306.9 261.0,304.9 265.0,303.4 268.0,304.8 272.0,306.3 277.0,307.1 282.0,308.0 284.0,308.3 288.0,308.7 292.0,309.5 295.0,309.2 297.0,307.7 299.0,304.4 300.0,301.4 301.0,296.3 302.0,289.0 303.0,282.5 304.0,277.0 305.0,273.5 306.5,270.0 308.5,263.1 310.5,257.5 312.0,255.4 313.5,256.2 315.0,257.9 316.5,253.0 318.0,252.4 319.5,249.4 321.0,247.2 322.5,247.9 324.0,245.0 325.5,241.0 327.0,237.4 328.5,237.6 330.0,239.6 331.5,243.3 333.0,245.7" fill="none" stroke="#ff8a1e" stroke-width="1" stroke-linejoin="round"/>
<polyline points="238.4,313.3 242.0,313.9 247.0,314.5 252.0,314.4 255.0,313.7 258.0,312.5 261.0,311.7 265.0,311.3 268.0,311.7 272.0,312.6 277.0,313.3 282.0,313.6 287.0,313.8 290.0,313.9 295.0,313.6 297.0,312.4 299.0,309.8 300.5,305.8 302.0,300.7 303.0,297.0 304.5,293.4 306.0,291.2 308.0,289.0 310.0,288.4 311.5,286.9 313.0,285.6 314.5,283.6 316.0,284.9 317.5,284.3 319.0,283.3 320.5,280.7 322.0,280.5 323.5,278.8 325.0,276.5 326.5,274.3 328.0,272.6 329.5,272.6 331.0,273.1 332.5,275.6" fill="none" stroke="#2ec23a" stroke-width="1" stroke-linejoin="round"/>
<rect x="238.5" y="231.4" width="94.7" height="86.9" fill="none" stroke="#a8a8a8" stroke-width="0.9"/>
<text x="236.2" y="318.9" font-size="6.5" text-anchor="end" fill="#2a2a2a" stroke="#2a2a2a" stroke-width="0.12">0.0</text>
<text x="236.2" y="305.3" font-size="6.5" text-anchor="end" fill="#2a2a2a" stroke="#2a2a2a" stroke-width="0.12">0.2</text>
<text x="236.2" y="291.7" font-size="6.5" text-anchor="end" fill="#2a2a2a" stroke="#2a2a2a" stroke-width="0.12">0.4</text>
<text x="236.2" y="278.0" font-size="6.5" text-anchor="end" fill="#2a2a2a" stroke="#2a2a2a" stroke-width="0.12">0.6</text>
<text x="236.2" y="264.2" font-size="6.5" text-anchor="end" fill="#2a2a2a" stroke="#2a2a2a" stroke-width="0.12">0.8</text>
<text x="236.2" y="250.1" font-size="6.5" text-anchor="end" fill="#2a2a2a" stroke="#2a2a2a" stroke-width="0.12">1.0</text>
<text x="236.2" y="236.0" font-size="6.5" text-anchor="end" fill="#2a2a2a" stroke="#2a2a2a" stroke-width="0.12">1.2</text>
<text x="252.5" y="326.1" font-size="6.5" text-anchor="middle" fill="#2a2a2a" stroke="#2a2a2a" stroke-width="0.12">500</text>
<text x="275.9" y="326.1" font-size="6.5" text-anchor="middle" fill="#2a2a2a" stroke="#2a2a2a" stroke-width="0.12">600</text>
<text x="299.2" y="326.1" font-size="6.5" text-anchor="middle" fill="#2a2a2a" stroke="#2a2a2a" stroke-width="0.12">700</text>
<text x="322.6" y="326.1" font-size="6.5" text-anchor="middle" fill="#2a2a2a" stroke="#2a2a2a" stroke-width="0.12">800</text>
<text x="285.9" y="337.4" font-size="7.7" text-anchor="middle" fill="#1e1e1e" stroke="#1e1e1e" stroke-width="0.12">Wavelength (nm)</text>
<line x1="308.4" y1="307.7" x2="316.5" y2="307.7" stroke="#ff8a1e" stroke-width="0.9" opacity="0.8"/>
<line x1="308.4" y1="312.8" x2="316.5" y2="312.8" stroke="#2ec23a" stroke-width="0.9" opacity="0.8"/>
<text x="318.5" y="309.2" font-size="4.2" fill="#444">Maize</text>
<text x="317.8" y="314.3" font-size="4.2" fill="#444">Soybean</text>
<polyline points="344.6,307.5 347.0,309.0 351.0,309.8 355.0,310.6 359.0,310.1 362.0,308.0 365.0,304.5 368.0,301.6 371.0,299.6 374.0,301.6 377.0,303.4 381.0,304.8 386.0,306.3 390.0,307.3 394.0,308.3 398.0,309.8 400.0,310.2 403.0,309.2 405.0,307.3 406.5,303.6 408.0,297.8 409.5,289.0 411.0,278.8 412.0,272.9 413.0,267.5 415.0,257.2 417.0,250.6 418.5,246.3 420.0,239.3 421.5,239.3 423.0,237.2 424.5,236.3 426.0,236.5 427.5,236.0 429.0,234.7 430.5,235.1 432.0,234.8 433.5,234.9 435.0,233.2 436.5,233.1 438.0,233.9" fill="none" stroke="#ff8a1e" stroke-width="1" stroke-linejoin="round"/>
<polyline points="344.6,309.2 347.0,310.2 351.0,310.6 355.0,311.3 359.0,310.6 362.0,309.2 365.0,306.3 368.0,303.6 371.0,302.4 374.0,303.4 377.0,305.1 381.0,306.9 386.0,307.8 390.0,308.3 394.0,309.2 398.0,310.2 400.0,310.4 403.0,309.4 405.0,307.5 406.5,303.8 408.0,298.0 409.5,289.2 411.0,279.0 412.0,273.0 413.0,267.5 415.0,257.2 417.0,251.5 418.5,246.1 420.0,242.8 421.5,244.2 423.0,243.1 424.5,241.7 426.0,242.3 427.5,240.5 429.0,239.6 430.5,238.4 432.0,238.6 433.5,237.6 435.0,238.0 436.5,238.3 438.0,239.7" fill="none" stroke="#2ec23a" stroke-width="1" stroke-linejoin="round"/>
<rect x="344.6" y="231.4" width="94.7" height="86.9" fill="none" stroke="#a8a8a8" stroke-width="0.9"/>
<text x="342.3" y="319.7" font-size="6.5" text-anchor="end" fill="#2a2a2a" stroke="#2a2a2a" stroke-width="0.12">0.0</text>
<text x="342.3" y="298.1" font-size="6.5" text-anchor="end" fill="#2a2a2a" stroke="#2a2a2a" stroke-width="0.12">0.2</text>
<text x="342.3" y="276.3" font-size="6.5" text-anchor="end" fill="#2a2a2a" stroke="#2a2a2a" stroke-width="0.12">0.4</text>
<text x="342.3" y="254.5" font-size="6.5" text-anchor="end" fill="#2a2a2a" stroke="#2a2a2a" stroke-width="0.12">0.6</text>
<text x="342.3" y="232.9" font-size="6.5" text-anchor="end" fill="#2a2a2a" stroke="#2a2a2a" stroke-width="0.12">0.8</text>
<text x="358.6" y="326.1" font-size="6.5" text-anchor="middle" fill="#2a2a2a" stroke="#2a2a2a" stroke-width="0.12">500</text>
<text x="382.0" y="326.1" font-size="6.5" text-anchor="middle" fill="#2a2a2a" stroke="#2a2a2a" stroke-width="0.12">600</text>
<text x="405.3" y="326.1" font-size="6.5" text-anchor="middle" fill="#2a2a2a" stroke="#2a2a2a" stroke-width="0.12">700</text>
<text x="428.7" y="326.1" font-size="6.5" text-anchor="middle" fill="#2a2a2a" stroke="#2a2a2a" stroke-width="0.12">800</text>
<text x="392.0" y="337.4" font-size="7.7" text-anchor="middle" fill="#1e1e1e" stroke="#1e1e1e" stroke-width="0.12">Wavelength (nm)</text>
<line x1="414.5" y1="307.7" x2="422.6" y2="307.7" stroke="#ff8a1e" stroke-width="0.9" opacity="0.8"/>
<line x1="414.5" y1="312.8" x2="422.6" y2="312.8" stroke="#2ec23a" stroke-width="0.9" opacity="0.8"/>
<text x="424.6" y="309.2" font-size="4.2" fill="#444">Maize</text>
<text x="423.9" y="314.3" font-size="4.2" fill="#444">Soybean</text>
<polyline points="450.1,309.4 454.0,310.4 460.0,310.4 464.0,310.4 467.0,308.6 470.0,306.3 473.0,304.5 476.0,304.2 479.0,304.9 482.0,306.3 486.0,307.1 490.0,307.7 494.0,308.4 497.0,308.5 501.0,309.0 505.0,309.5 508.0,309.2 510.0,307.7 512.0,305.1 513.5,300.7 515.0,291.9 516.5,283.9 517.5,279.0 518.5,275.0 520.0,270.0 522.0,264.0 523.5,256.6 525.0,252.3 526.5,248.3 528.0,250.9 529.5,247.7 531.0,247.8 532.5,246.1 534.0,244.8 535.5,244.0 537.0,241.0 538.5,238.9 540.0,237.9 541.5,238.3 543.0,239.0 544.5,241.6" fill="none" stroke="#ff8a1e" stroke-width="1" stroke-linejoin="round"/>
<polyline points="450.1,311.8 454.0,312.7 460.0,313.3 464.0,313.2 467.0,312.7 470.0,311.3 473.0,310.1 476.0,309.2 478.0,310.1 482.0,311.0 486.0,311.3 490.0,311.8 494.0,312.1 497.0,312.4 502.0,312.8 508.0,312.8 511.0,311.7 513.0,308.7 515.0,302.9 517.0,294.1 519.0,289.0 521.0,285.4 523.0,281.8 524.5,277.9 526.0,276.5 527.5,276.9 529.0,276.2 530.5,276.7 532.0,274.9 533.5,274.2 535.0,273.4 536.5,273.0 538.0,270.1 539.5,268.3 541.0,269.0 542.5,269.0 544.0,270.2 545.5,271.0" fill="none" stroke="#2ec23a" stroke-width="1" stroke-linejoin="round"/>
<rect x="450.1" y="231.4" width="95.9" height="86.9" fill="none" stroke="#a8a8a8" stroke-width="0.9"/>
<text x="447.8" y="319.7" font-size="6.5" text-anchor="end" fill="#2a2a2a" stroke="#2a2a2a" stroke-width="0.12">0.0</text>
<text x="447.8" y="305.2" font-size="6.5" text-anchor="end" fill="#2a2a2a" stroke="#2a2a2a" stroke-width="0.12">0.2</text>
<text x="447.8" y="290.8" font-size="6.5" text-anchor="end" fill="#2a2a2a" stroke="#2a2a2a" stroke-width="0.12">0.4</text>
<text x="447.8" y="276.3" font-size="6.5" text-anchor="end" fill="#2a2a2a" stroke="#2a2a2a" stroke-width="0.12">0.6</text>
<text x="447.8" y="261.8" font-size="6.5" text-anchor="end" fill="#2a2a2a" stroke="#2a2a2a" stroke-width="0.12">0.8</text>
<text x="447.8" y="247.4" font-size="6.5" text-anchor="end" fill="#2a2a2a" stroke="#2a2a2a" stroke-width="0.12">1.0</text>
<text x="447.8" y="232.9" font-size="6.5" text-anchor="end" fill="#2a2a2a" stroke="#2a2a2a" stroke-width="0.12">1.2</text>
<text x="464.1" y="326.1" font-size="6.5" text-anchor="middle" fill="#2a2a2a" stroke="#2a2a2a" stroke-width="0.12">500</text>
<text x="487.5" y="326.1" font-size="6.5" text-anchor="middle" fill="#2a2a2a" stroke="#2a2a2a" stroke-width="0.12">600</text>
<text x="510.8" y="326.1" font-size="6.5" text-anchor="middle" fill="#2a2a2a" stroke="#2a2a2a" stroke-width="0.12">700</text>
<text x="534.2" y="326.1" font-size="6.5" text-anchor="middle" fill="#2a2a2a" stroke="#2a2a2a" stroke-width="0.12">800</text>
<text x="498.1" y="337.4" font-size="7.7" text-anchor="middle" fill="#1e1e1e" stroke="#1e1e1e" stroke-width="0.12">Wavelength (nm)</text>
<line x1="521.2" y1="307.7" x2="529.3" y2="307.7" stroke="#ff8a1e" stroke-width="0.9" opacity="0.8"/>
<line x1="521.2" y1="312.8" x2="529.3" y2="312.8" stroke="#2ec23a" stroke-width="0.9" opacity="0.8"/>
<text x="531.3" y="309.2" font-size="4.2" fill="#444">Maize</text>
<text x="530.6" y="314.3" font-size="4.2" fill="#444">Soybean</text>
<text transform="translate(14.3 274.4) rotate(-90)" font-size="7.8" text-anchor="middle" fill="#1e1e1e" stroke="#1e1e1e" stroke-width="0.12">Reflecance</text>
</svg></body></html>
